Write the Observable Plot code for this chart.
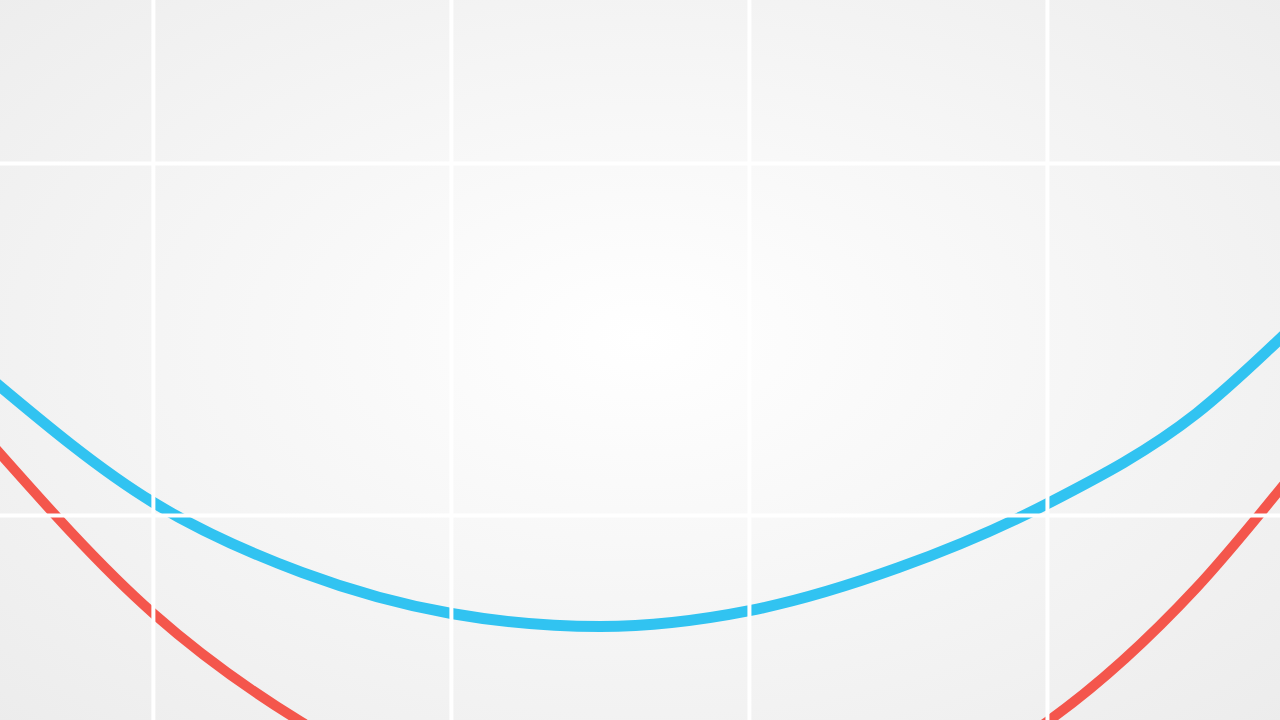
<!DOCTYPE html>
<html>
<head>
<meta charset="utf-8">
<script src="https://cdn.jsdelivr.net/npm/d3@7"></script>
<script src="https://cdn.jsdelivr.net/npm/@observablehq/plot@0.6"></script>
<style>
  html, body { margin: 0; padding: 0; width: 1280px; height: 720px; overflow: hidden; }
  #chart {
    width: 1280px; height: 720px;
    background: radial-gradient(ellipse 75% 80% at 50% 47%, #ffffff 0%, #f6f6f6 45%, #ebebeb 100%);
  }
  #chart svg { display: block; }
</style>
</head>
<body>
<div id="chart"></div>
<script>
// Series values (abstract units)
const xs = [-0.55, 0, 0.5, 1, 1.5, 2, 2.5, 3, 3.5, 3.82];
const blueY = [0.392, 0.037, -0.162, -0.278, -0.315, -0.27, -0.148, 0.034, 0.29, 0.534];
const redY = [0.21, -0.278, -0.588, -0.795, -0.905, -0.912, -0.81, -0.585, -0.205, 0.116];
// Grid positions
const gridX = [0, 1, 2, 3];
const gridY = [0, 1];

const blue = xs.map((x, i) => ({x, y: blueY[i]}));
const red = xs.map((x, i) => ({x, y: redY[i]}));

const plot = Plot.plot({
  width: 1280,
  height: 720,
  margin: 0,
  x: {domain: [-0.513, 3.782], axis: null},
  y: {domain: [-0.582, 1.463], axis: null},
  style: {background: "transparent", overflow: "hidden"},
  marks: [
    Plot.line(red, {x: "x", y: "y", stroke: "#f4564c", strokeWidth: 10, curve: "monotone-x", clip: true}),
    Plot.line(blue, {x: "x", y: "y", stroke: "#31c3f1", strokeWidth: 11, curve: "monotone-x", clip: true}),
    Plot.ruleX(gridX, {stroke: "#ffffff", strokeWidth: 4, strokeOpacity: 1}),
    Plot.ruleY(gridY, {stroke: "#ffffff", strokeWidth: 4, strokeOpacity: 1})
  ]
});
document.getElementById("chart").appendChild(plot);
</script>
</body>
</html>
